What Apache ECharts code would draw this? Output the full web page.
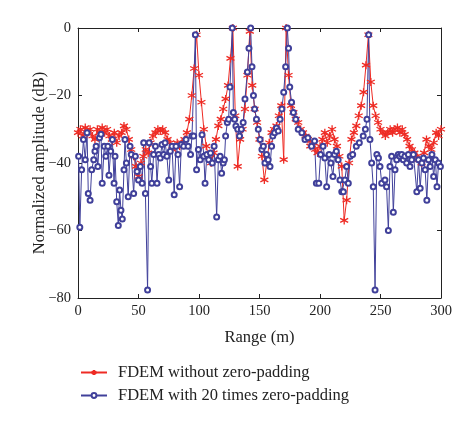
<!DOCTYPE html>
<html lang="en">
<head>
    <meta charset="UTF-8">
    <title>FDEM range profile</title>
    <script src="https://cdn.jsdelivr.net/npm/echarts@6/dist/echarts.min.js"></script>
    <style>
        html, body { margin: 0; padding: 0; background: #fff; }
        #main { width: 474px; height: 425px; }
    </style>
</head>
<body>
<div id="main"></div>

<script type="text/javascript">
    var xTicks = [0, 50, 100, 150, 200, 250, 300];
    var yTicks = [-80, -60, -40, -20, 0];

    // FDEM without zero-padding: one sample every 2 m (dB)
    var rangeStep = 2;
    var noPadding = [
        -31, -30, -32, -29.5, -31, -30, -32, -33, -30, -31,
        -29.5, -31, -30, -32, -33, -31, -34, -32, -31, -29,
        -30, -33, -36, -38, -41, -44, -40, -38, -36, -37,
        -34, -32, -31, -30, -30.5, -30, -31, -33, -34, -36,
        -35, -34, -35, -34, -33, -31, -27, -20, -12, -2,
        -14, -22, -30, -35, -38, -40, -37, -33, -29, -27,
        -24, -21, -17, -9, 0, -26, -41, -33, -30, -24,
        -14, -1, -17, -24, -28, -33, -38, -45, -40, -34,
        -31, -30, -29, -26, -23, -39, 0, -14, -23, -25,
        -27, -28, -30, -31, -32, -33, -35, -34, -36, -37,
        -35, -33, -31, -34, -32, -30, -33, -35, -38, -41,
        -57, -51, -40, -33, -31, -29, -26, -23, -19, -11,
        -2, -16, -23, -26, -28, -30, -31, -32, -31, -30,
        -31, -30, -29.5, -31, -30, -31.5, -33, -35, -36, -37,
        -38, -39, -40, -37, -33, -35, -36, -34, -31, -32,
        -30
    ];

    // FDEM with 20 times zero-padding: range (m) and amplitude (dB)
    var paddedRange = [
        0.5, 1.5, 3, 4.5, 6, 7.5, 8.5, 10, 11.3, 13,
        14, 15, 16.4, 17.8, 19, 20, 21.7, 23, 24.7, 25.6,
        27, 28.4, 29.8, 30.6, 32, 33.3, 34.4, 35.5, 36.6, 38,
        38.8, 40, 41.5, 43, 44, 46, 47.4, 48.8, 50, 51.5,
        53, 54.3, 55.7, 57.5, 58.8, 60, 61, 62.5, 64, 65.3,
        66.7, 68, 69.4, 70.8, 72, 73.5, 75, 76.3, 77.7, 79.5,
        81, 82.6, 84, 85.4, 87.3, 89.3, 91, 93, 94.2, 95.6,
        97, 98, 99.5, 101, 102.5, 104, 105, 106.5, 108, 109.5,
        111, 112.5, 114.6, 116, 117.5, 118.7, 120, 121, 122, 123.4,
        124.5, 125.6, 127.5, 128.4, 129.5, 130.5, 132, 133.5, 135, 136.5,
        138, 140, 141.3, 142.7, 143.8, 145, 146, 147.5, 149, 150.5,
        152, 153.2, 154.5, 155.8, 157.2, 158.7, 160, 161, 162.5, 164,
        165.5, 167, 168.5, 170, 171.6, 173, 174, 175, 176.5, 178,
        180, 182, 185, 187.6, 190, 193, 195.5, 197, 199, 200.5,
        202.5, 204, 205.5, 207.5, 209, 210.7, 212, 213.5, 215, 216.5,
        218, 219.3, 220.6, 222, 223.4, 225, 227, 230, 232.5, 235.7,
        237.5, 238.8, 240.2, 241.3, 242.7, 244, 245.5, 247, 248.3, 249.6,
        251, 253.7, 255, 256.5, 257.8, 259.2, 260.6, 262, 263.4, 264.7,
        266, 267.5, 268.8, 270.2, 271.6, 273, 274.4, 275.8, 277.2, 280,
        281.4, 282.8, 284.2, 285.5, 286.9, 288.3, 289.7, 291, 292.5, 293.9,
        295.3, 296.7, 298, 299.5
    ];
    var paddedValues = [
        -38, -59, -42, -33, -39, -31, -49, -51, -42, -39,
        -36.5, -35, -41, -32.5, -31.5, -46, -35, -38, -35, -43.6,
        -36.5, -33, -46, -38, -51.5, -58.5, -48, -54, -56.6, -42,
        -33, -40, -50, -35, -37.5, -49, -38, -42.5, -45, -41,
        -46, -34, -49, -77.6, -34, -41, -46, -37.5, -35, -46,
        -37.5, -38.5, -34.5, -37.5, -34, -38, -45, -36.5, -35, -49.4,
        -35, -37.5, -47, -34.5, -35, -33, -35, -37.5, -32, -32,
        -2, -42, -36, -39, -31.6, -38, -46, -37.5, -39, -37,
        -40, -35, -56, -39, -38, -43, -40, -39, -32, -28,
        -27, -17.5, 0, -25, -27, -29, -30, -32, -30, -28,
        -21, -13, -6, 0, -11.5, -20, -24, -27, -30, -33,
        -36, -35, -40, -37.5, -39, -41, -35, -32, -31, -29.6,
        -30.5, -27, -24, -19, -11.5, 0, -6, -17.5, -22, -25,
        -27, -30, -31, -33, -32.5, -35, -33.5, -46, -46, -37.5,
        -35, -38.5, -47, -37.5, -40, -44, -37.5, -36.5, -39, -45,
        -48.5, -48.5, -45, -41, -46, -38, -37.5, -35, -34, -32,
        -30, -27, -2, -33, -40, -47, -77.6, -37.5, -38.5, -41,
        -46, -45, -47, -60, -41, -38, -54.6, -42, -39, -37.5,
        -38, -37.5, -39, -38, -40, -37.5, -41, -39, -37.5, -48.5,
        -39, -47.5, -40, -38.5, -42, -51, -39, -41, -37.5, -44,
        -39, -47, -40, -41
    ];

    function stepPairs(values) {
        return values.map(function (v, i) { return [i * rangeStep, v]; });
    }

    function zipPairs(xs, ys) {
        return xs.map(function (x, i) { return [x, ys[i]]; });
    }

    function minusSign(v) {
        return String(v).replace('-', '\u2212');
    }

    var fontFamily = '"Liberation Serif", "DejaVu Serif", serif';
    var asterisk = 'path://M5,0L5,10M0.7,2.5L9.3,7.5M0.7,7.5L9.3,2.5';
    var red = '#ee2b24';
    var blue = '#40409a';
    var ink = '#222';

    var myChart = echarts.init(document.getElementById('main'), null, {renderer: 'canvas'});

    // box frame with inward ticks on all four sides
    function frame(extra) {
        var base = {
            type: 'value',
            axisLine: {show: true, onZero: false, lineStyle: {color: ink, width: 1}},
            axisTick: {inside: true, length: 4, lineStyle: {color: ink}},
            splitLine: {show: false}
        };
        return Object.assign(base, extra);
    }

    var option = {
        backgroundColor: '#fff',
        animation: false,
        textStyle: {fontFamily: fontFamily},
        grid: {left: 78, right: 33, top: 28, bottom: 127, containLabel: false},
        legend: {
            orient: 'vertical',
            left: 75,
            top: 359,
            itemWidth: 26,
            itemHeight: 6,
            itemGap: 6,
            textStyle: {fontFamily: fontFamily, fontSize: 16.5, color: ink, padding: [0, 0, 0, 6]},
            data: ['FDEM without zero-padding', 'FDEM with 20 times zero-padding']
        },
        xAxis: [
            frame({
                min: xTicks[0],
                max: xTicks[xTicks.length - 1],
                interval: 50,
                name: 'Range (m)',
                nameLocation: 'middle',
                nameGap: 31,
                nameTextStyle: {fontFamily: fontFamily, fontSize: 16.5, color: ink},
                axisLabel: {fontFamily: fontFamily, fontSize: 14.5, color: ink, margin: 6}
            }),
            frame({
                position: 'top',
                min: xTicks[0],
                max: xTicks[xTicks.length - 1],
                interval: 50,
                axisLabel: {show: false}
            })
        ],
        yAxis: [
            frame({
                min: yTicks[0],
                max: yTicks[yTicks.length - 1],
                interval: 20,
                name: 'Normalized amplitude (dB)',
                nameLocation: 'middle',
                nameGap: 30,
                nameMoveOverlap: false,
                nameTextStyle: {fontFamily: fontFamily, fontSize: 16.5, color: ink},
                axisLabel: {fontFamily: fontFamily, fontSize: 14.5, color: ink, margin: 7, formatter: minusSign}
            }),
            frame({
                position: 'right',
                min: yTicks[0],
                max: yTicks[yTicks.length - 1],
                interval: 20,
                axisLabel: {show: false}
            })
        ],
        series: [
            {
                name: 'FDEM without zero-padding',
                type: 'line',
                data: stepPairs(noPadding),
                symbol: asterisk,
                symbolSize: 8,
                showAllSymbol: true,
                lineStyle: {color: red, width: 1},
                itemStyle: {color: 'none', borderColor: red, borderWidth: 1.3}
            },
            {
                name: 'FDEM with 20 times zero-padding',
                type: 'line',
                data: zipPairs(paddedRange, paddedValues),
                symbol: 'emptyCircle',
                symbolSize: 5,
                showAllSymbol: true,
                lineStyle: {color: blue, width: 1},
                itemStyle: {color: blue, borderColor: blue, borderWidth: 1}
            }
        ]
    };

    myChart.setOption(option);
</script>
</body>
</html>
